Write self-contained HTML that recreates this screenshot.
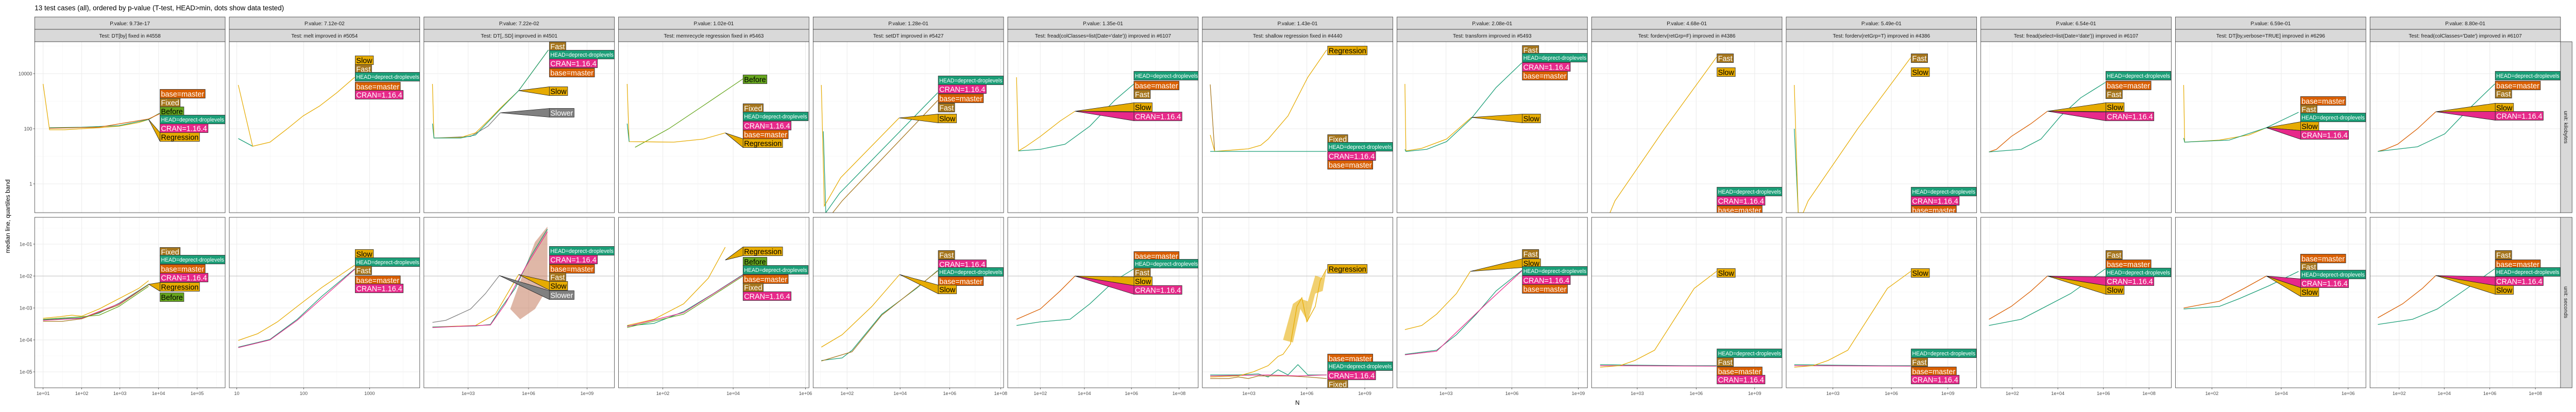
<!DOCTYPE html>
<html><head><meta charset="utf-8"><style>
html,body{margin:0;padding:0;background:#fff;overflow:hidden;width:100%;height:100%}
svg{display:block;font-family:"Liberation Sans",sans-serif;width:100vw;height:100vh}
</style></head><body>
<svg id="s" viewBox="0 0 5200 800" preserveAspectRatio="none" xmlns="http://www.w3.org/2000/svg">
<rect width="5200" height="800" fill="#fff"/>
<text x="70" y="20" font-size="14" fill="#000">13 test cases (all), ordered by p-value (T-test, HEAD&gt;min, dots show data tested)</text>
<text x="20" y="420" font-size="12" fill="#000" text-anchor="middle" transform="rotate(-90 20 420)">median line, quartiles band</text>
<text x="2619" y="786" font-size="12" fill="#000" text-anchor="middle">N</text>
<rect x="5168" y="81" width="24" height="332" fill="#D9D9D9" stroke="#333" stroke-width="0.8"/>
<text x="5180" y="247" font-size="10.5" fill="#1a1a1a" text-anchor="middle" transform="rotate(90 5180 247)" dy="4">unit: kilobytes</text>
<rect x="5168" y="422" width="24" height="331" fill="#D9D9D9" stroke="#333" stroke-width="0.8"/>
<text x="5180" y="587" font-size="10.5" fill="#1a1a1a" text-anchor="middle" transform="rotate(90 5180 587)" dy="4">unit: seconds</text>
<g id="g"></g>
</svg>
<script>
const C={"base=master":"#D95F02","Fixed":"#A6761D","Fast":"#A6761D","Before":"#66A61E","HEAD":"#1B9E77","CRAN":"#E7298A","Regression":"#E6AB02","Slow":"#E6AB02","Slower":"#808080"};
const TXT={"HEAD":"HEAD=deprect-droplevels","CRAN":"CRAN=1.16.4"};
const WHITE={"base=master":1,"Fixed":1,"Fast":1,"HEAD":1,"CRAN":1,"Slower":1};
const P=[
{pv:"9.73e-17",t:"Test: DT[by] fixed in #4558",ticks:[[87,"1e+01"],[165,"1e+02"],[242,"1e+03"],[320,"1e+04"],[398,"1e+05"]],
 top:{lines:[["Regression","87,163 100,252 130,252 165,250 200,248 240,245 280,238 300,232 322,220"],["HEAD","100,248 165,247 240,244 300,232 322,220"],["base=master","100,249 200,247 300,231 322,221"]],lx:323,lab:[["base=master",182],["Fixed",199],["Before",216],["HEAD",232],["CRAN",249],["Regression",266]],co:{"Regression":[300,232]}},
 bot:{lines:[["Regression","87,618 120,615 145,612 165,614 200,600 240,580 280,560 300,545"],["HEAD","87,621 125,619 165,617 200,608 240,589 300,552"],["CRAN","87,622 165,618 240,590 300,553"],["Fixed","87,624 125,624 165,619 240,592 300,553"],["Before","87,620 165,615 200,612 240,595 300,556"]],lx:323,lab:[["Fixed",489],["HEAD",504],["base=master",522],["CRAN",539],["Regression",557],["Before",577]],co:{"Regression":[300,552]}}},
{pv:"7.12e-02",t:"Test: melt improved in #5054",ticks:[[478,"10"],[613,"100"],[746,"1000"]],
 top:{lines:[["HEAD","481,269 510,284"],["Regression","481,165 510,284 545,276 580,250 612,225 645,206 680,180 716,150"]],lx:717,lab:[["Slow",117],["Fast",134],["HEAD",149],["base=master",168],["CRAN",184]],co:{}},
 bot:{lines:[["Regression","481,661 520,648 560,625 600,595 650,558 716,515"],["HEAD","481,674 520,665 545,659 600,620 650,575 716,522"],["CRAN","481,675 545,660 600,622 716,523"]],lx:717,lab:[["Slow",493],["HEAD",509],["Fast",525],["base=master",544],["CRAN",560]],co:{}}},
{pv:"7.22e-02",t:"Test: DT[,.SD] improved in #4501",ticks:[[945,"1e+03"],[1067,"1e+06"],[1185,"1e+09"]],
 top:{lines:[["Slower","876,268 950,265 985,245 1010,219"],["Regression","873,163 876,268 930,267 960,258 990,230 1010,210 1047,176 1107,97"],["HEAD","873,240 876,268 930,268 960,262 1010,212 1047,176 1107,97"]],lx:1109,lab:[["Fast",90],["HEAD",106],["CRAN",123],["base=master",141],["Slow",177],["Slower",219]],co:{"Slow":[1047,176],"Slower":[1010,219]}},
 bot:{lines:[["Slower","873,626 900,622 950,600 980,570 1008,535"],["Regression","873,635 960,632 1000,610 1047,533"],["HEAD","873,635 960,633 990,630 1010,600 1040,560 1070,500 1105,445"],["CRAN","873,636 990,631 1020,590 1060,520 1105,450"]],band:["#C0705080","1030,600 1060,520 1080,470 1105,440 1105,560 1080,600 1050,620"],lx:1109,lab:[["HEAD",487],["CRAN",504],["base=master",522],["Fast",538],["Slow",555],["Slower",573]],co:{"Slow":[1047,533],"Slower":[1008,535]}}},
{pv:"1.02e-01",t:"Test: memrecycle regression fixed in #5463",ticks:[[1338,"1e+02"],[1480,"1e+04"],[1626,"1e+06"]],
 top:{lines:[["Before","1282,286 1350,250 1420,205 1500,153"],["Regression","1266,163 1270,275 1360,276 1420,270 1464,258"],["HEAD","1266,240 1270,275"]],lx:1500,lab:[["Before",154],["Fixed",210],["HEAD",226],["CRAN",244],["base=master",261],["Regression",278]],co:{"Regression":[1464,258]}},
 bot:{lines:[["Regression","1266,632 1320,620 1380,590 1430,540 1464,480"],["HEAD","1266,633 1320,628 1380,605 1440,570 1500,533"],["CRAN","1266,634 1380,607 1500,534"],["Before","1266,636 1380,610 1500,536"]],lx:1500,lab:[["Regression",488],["Before",508],["HEAD",524],["base=master",542],["Fixed",558],["CRAN",575]],co:{"Regression":[1464,505]}}},
{pv:"1.28e-01",t:"Test: setDT improved in #5427",ticks:[[1710,"1e+02"],[1817,"1e+04"],[1917,"1e+06"],[2020,"1e+08"]],
 top:{lines:[["Regression","1658,165 1664,400 1697,345 1815,229"],["HEAD","1662,255 1667,413 1695,375 1893,180"],["Fixed","1681,413 1700,390 1893,195"]],lx:1894,lab:[["HEAD",156],["CRAN",173],["base=master",191],["Fast",209],["Slow",230]],co:{"Slow":[1815,229]}},
 bot:{lines:[["Regression","1658,674 1700,650 1760,595 1816,533"],["HEAD","1658,700 1700,695 1720,680 1780,610 1850,560 1893,525"],["Fixed","1658,701 1720,683 1780,612 1893,526"]],lx:1894,lab:[["Fast",495],["CRAN",513],["HEAD",528],["base=master",546],["Slow",562]],co:{"Slow":[1816,533]}}},
{pv:"1.35e-01",t:"Test: fread(colClasses=list(Date='date')) improved in #6107",ticks:[[2100,"1e+02"],[2189,"1e+04"],[2284,"1e+06"],[2380,"1e+08"]],
 top:{lines:[["Regression","2052,150 2056,293 2070,285 2100,265 2140,235 2170,216"],["HEAD","2056,293 2100,290 2150,280 2200,245 2250,195 2289,163"]],lx:2289,lab:[["HEAD",147],["base=master",166],["Fast",183],["Slow",208],["CRAN",226]],co:{"Slow":[2170,216],"CRAN":[2170,216]}},
 bot:{lines:[["base=master","2052,620 2100,600 2140,565 2170,536"],["HEAD","2052,632 2100,625 2160,620 2200,590 2250,545 2289,522"]],lx:2289,lab:[["base=master",497],["HEAD",512],["Fast",529],["Slow",546],["CRAN",563]],co:{"Slow":[2170,536],"CRAN":[2170,536]}}},
{pv:"1.43e-01",t:"Test: shallow regression fixed in #4440",ticks:[[2521,"1e+03"],[2638,"1e+06"],[2755,"1e+09"]],
 top:{lines:[["Fixed","2443,164 2452,294"],["Regression","2443,262 2452,294 2520,289 2545,282 2560,270 2600,225 2640,150 2678,97"],["HEAD","2443,294 2678,294"]],lx:2680,lab:[["Regression",98],["Fixed",270],["HEAD",285],["CRAN",303],["base=master",320]],co:{}},
 bot:{band:["#E6AB0290","2590,660 2610,590 2625,580 2640,585 2655,535 2670,540 2678,522 2670,565 2655,570 2640,625 2625,600 2610,665"],lines:[["HEAD","2443,728 2500,728 2540,726 2560,732 2580,718 2600,728 2620,708 2640,728 2660,728 2678,728"],["Fixed","2443,735 2480,735 2500,732 2520,735 2540,730 2600,730 2640,732 2678,735"],["CRAN","2443,730 2560,728 2620,730 2678,728"],["Regression","2443,732 2500,730 2530,722 2560,710 2580,692 2590,688 2605,668 2618,595 2628,578 2638,625 2655,595 2665,545 2678,522"]],lx:2680,lab:[["Regression",522],["base=master",696],["HEAD",711],["CRAN",729],["Fixed",746]],co:{}}},
{pv:"2.08e-01",t:"Test: transform improved in #5493",ticks:[[2919,"1e+03"],[3052,"1e+06"],[3186,"1e+09"]],
 top:{lines:[["Regression","2836,163 2838,293 2870,288 2920,270 2970,228"],["HEAD","2836,290 2838,294 2880,290 2920,275 2970,230 3020,170 3072,122"]],lx:3073,lab:[["Fast",97],["HEAD",112],["CRAN",130],["base=master",147],["Slow",230]],co:{"Slow":[2970,228]}},
 bot:{lines:[["Regression","2836,640 2870,632 2900,610 2940,570 2968,527"],["HEAD","2836,688 2900,680 2940,650 2980,610 3020,565 3072,525"],["CRAN","2836,689 2900,682 3000,590 3072,526"]],lx:3073,lab:[["Fast",493],["Slow",511],["HEAD",526],["CRAN",544],["base=master",561]],co:{"Slow":[2968,527]}}},
{pv:"4.68e-01",t:"Test: forderv(retGrp=F) improved in #4386",ticks:[[3305,"1e+03"],[3424,"1e+06"],[3542,"1e+09"]],
 top:{lines:[["Regression","3250,413 3260,390 3360,250 3465,111"]],lx:3466,lab:[["Fast",113],["Slow",140],["HEAD",372],["CRAN",390],["base=master",408]],co:{}},
 bot:{lines:[["HEAD","3230,708 3300,709 3400,710 3465,710"],["CRAN","3230,710 3465,711"],["Regression","3230,713 3270,710 3300,700 3340,680 3380,620 3420,560 3465,527"]],lx:3466,lab:[["Slow",530],["HEAD",686],["Fast",703],["base=master",721],["CRAN",737]],co:{}}},
{pv:"5.49e-01",t:"Test: forderv(retGrp=T) improved in #4386",ticks:[[3700,"1e+03"],[3818,"1e+06"],[3932,"1e+09"]],
 top:{lines:[["HEAD","3622,250 3630,413"],["Regression","3622,165 3630,413 3640,413 3650,390 3750,250 3857,112"]],lx:3858,lab:[["Fast",113],["Slow",140],["HEAD",372],["CRAN",390],["base=master",408]],co:{}},
 bot:{lines:[["HEAD","3622,708 3700,709 3800,710 3857,710"],["CRAN","3622,710 3857,711"],["Regression","3622,713 3660,710 3690,700 3730,680 3770,620 3810,560 3857,527"]],lx:3858,lab:[["Slow",530],["HEAD",686],["Fast",703],["base=master",721],["CRAN",737]],co:{}}},
{pv:"6.54e-01",t:"Test: fread(select=list(Date='date')) improved in #6107",ticks:[[4062,"1e+02"],[4154,"1e+04"],[4246,"1e+06"],[4338,"1e+08"]],
 top:{lines:[["base=master","4015,295 4030,290 4060,265 4100,240 4133,216"],["HEAD","4015,295 4080,290 4120,270 4160,225 4200,190 4250,160"]],lx:4251,lab:[["HEAD",147],["base=master",166],["Fast",183],["Slow",208],["CRAN",226]],co:{"Slow":[4133,216],"CRAN":[4133,216]}},
 bot:{lines:[["base=master","4015,620 4060,595 4100,565 4133,536"],["HEAD","4015,632 4080,620 4120,600 4180,570 4250,522"]],lx:4251,lab:[["Fast",495],["base=master",513],["HEAD",529],["CRAN",546],["Slow",563]],co:{"CRAN":[4133,536],"Slow":[4133,536]}}},
{pv:"6.59e-01",t:"Test: DT[by,verbose=TRUE] improved in #6296",ticks:[[4465,"1e+02"],[4605,"1e+04"],[4740,"1e+06"]],
 top:{lines:[["Regression","4408,165 4410,276 4480,272 4540,262 4575,248"],["HEAD","4408,268 4410,276 4500,272 4575,248 4640,218"]],lx:4644,lab:[["base=master",196],["Fast",212],["HEAD",228],["Slow",245],["CRAN",262]],co:{"Slow":[4575,248],"CRAN":[4575,248]}},
 bot:{lines:[["base=master","4408,598 4480,585 4530,560 4575,536"],["HEAD","4408,600 4480,595 4520,580 4580,555 4640,527"]],lx:4644,lab:[["base=master",502],["Fast",518],["HEAD",533],["CRAN",550],["Slow",567]],co:{"CRAN":[4575,536],"Slow":[4575,536]}}},
{pv:"8.80e-01",t:"Test: fread(colClasses='Date') improved in #6107",ticks:[[4843,"1e+02"],[4934,"1e+04"],[5026,"1e+06"],[5118,"1e+08"]],
 top:{lines:[["base=master","4800,294 4815,290 4840,280 4880,250 4917,217"],["HEAD","4800,294 4880,285 4935,260 4980,215 5036,163"]],lx:5037,lab:[["HEAD",147],["base=master",166],["Fast",182],["Slow",209],["CRAN",225]],co:{"Slow":[4917,217],"CRAN":[4917,217]}},
 bot:{lines:[["base=master","4800,617 4850,590 4890,560 4917,535"],["HEAD","4800,630 4870,620 4920,600 4980,560 5036,522"]],lx:5037,lab:[["Fast",495],["base=master",513],["HEAD",528],["CRAN",546],["Slow",563]],co:{"Slow":[4917,535],"CRAN":[4917,535]}}}
];
const NS="http://www.w3.org/2000/svg",G=document.getElementById("g");
function el(t,a,p){const e=document.createElementNS(NS,t);for(const k in a)e.setAttribute(k,a[k]);(p||G).appendChild(e);return e;}
const W=384.5,STEP=392.85;
const topY=[81,413],botY=[422,753];
const topMaj=[[143,"10000"],[250,"100"],[357,"1"]],topMin=[89.5,196.5,303.5,410.5];
const botMaj=[[474,"1e-01"],[536,"1e-02"],[598,"1e-03"],[660,"1e-04"],[722,"1e-05"]],botMin=[443,505,567,629,691];
P.forEach((p,i)=>{
 const x0=70+i*STEP,x1=x0+W;
 el("rect",{x:x0,y:33,width:W,height:24,fill:"#D9D9D9",stroke:"#333","stroke-width":0.8});
 el("rect",{x:x0,y:57,width:W,height:24,fill:"#D9D9D9",stroke:"#333","stroke-width":0.8});
 el("text",{x:x0+W/2,y:49,"font-size":10.5,fill:"#1a1a1a","text-anchor":"middle"}).textContent="P.value: "+p.pv;
 el("text",{x:x0+W/2,y:73,"font-size":10.5,fill:"#1a1a1a","text-anchor":"middle"}).textContent=p.t;
 [[p.top,topY,topMaj,topMin],[p.bot,botY,botMaj,botMin]].forEach(([d,yr,maj,mn],ri)=>{
  const cid="c"+i+"_"+ri;
  const cp=el("clipPath",{id:cid});el("rect",{x:x0,y:yr[0],width:W,height:yr[1]-yr[0]},cp);
  el("rect",{x:x0,y:yr[0],width:W,height:yr[1]-yr[0],fill:"#fff"});
  const g=el("g",{"clip-path":"url(#"+cid+")"});
  mn.forEach(y=>el("line",{x1:x0,x2:x1,y1:y,y2:y,stroke:"#F2F2F2","stroke-width":0.6},g));
  maj.forEach(([y])=>el("line",{x1:x0,x2:x1,y1:y,y2:y,stroke:"#EBEBEB","stroke-width":1.1},g));
  const tx=p.ticks.map(t=>t[0]);
  for(let k=0;k<tx.length-1;k++){const m=(tx[k]+tx[k+1])/2;el("line",{x1:m,x2:m,y1:yr[0],y2:yr[1],stroke:"#F2F2F2","stroke-width":0.6},g);}
  if(tx.length>1){const s=tx[1]-tx[0];[tx[0]-s/2,tx[tx.length-1]+s/2].forEach(m=>el("line",{x1:m,x2:m,y1:yr[0],y2:yr[1],stroke:"#F2F2F2","stroke-width":0.6},g));}
  tx.forEach(x=>el("line",{x1:x,x2:x,y1:yr[0],y2:yr[1],stroke:"#EBEBEB","stroke-width":1.1},g));
  if(ri==1)el("line",{x1:x0,x2:x1,y1:536,y2:536,stroke:"#BDBDBD","stroke-width":1},g);
  if(d.band)el("polygon",{points:d.band[1],fill:d.band[0],stroke:"none"},g);
  d.lines.forEach(([k,pts])=>el("polyline",{points:pts,fill:"none",stroke:C[k],"stroke-width":1.3},g));
  d.lab.forEach(([k,y])=>{
   const fs=k=="HEAD"?11:15;
   const t=document.createElementNS(NS,"text");
   t.setAttribute("font-size",fs);t.textContent=TXT[k]||k;
   t.setAttribute("x",d.lx+2);t.setAttribute("y",y+(k=="HEAD"?4:5.5));
   t.setAttribute("fill",WHITE[k]?"#fff":"#000");
   let w=(TXT[k]||k).length*(k=="HEAD"?6.2:8.4);
   const co=d.co[k];
   if(co)el("polygon",{points:co[0]+","+co[1]+" "+d.lx+","+(y-8.5)+" "+d.lx+","+(y+8.5),fill:C[k],stroke:"#1a1a1a","stroke-width":0.8},g);
   const r=el("rect",{x:d.lx,y:y-8.5,width:w,height:17,fill:C[k],stroke:"#333","stroke-width":0.9},g);
   g.appendChild(t);
   try{const bb=t.getBBox();if(bb.width>0)r.setAttribute("width",bb.width+4);}catch(e){}
  });
  el("rect",{x:x0,y:yr[0],width:W,height:yr[1]-yr[0],fill:"none",stroke:"#333","stroke-width":0.8});
  if(i==0){maj.forEach(([y,l])=>{el("line",{x1:x0-3,x2:x0,y1:y,y2:y,stroke:"#333","stroke-width":0.8});
   el("text",{x:x0-5,y:y+3.5,"font-size":10,fill:"#4D4D4D","text-anchor":"end"}).textContent=l;});}
 });
 p.ticks.forEach(([x,l])=>{el("line",{x1:x,x2:x,y1:753,y2:756,stroke:"#333","stroke-width":0.8});
  el("text",{x:x,y:767,"font-size":9.5,fill:"#4D4D4D","text-anchor":"middle"}).textContent=l;});
});
</script>
</body></html>
